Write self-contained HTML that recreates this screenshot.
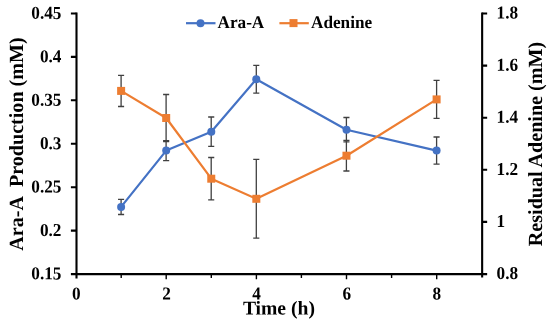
<!DOCTYPE html>
<html><head><meta charset="utf-8"><title>Chart</title>
<style>html,body{margin:0;padding:0;background:#fff}svg{display:block}text{text-rendering:geometricPrecision;font-family:"Liberation Serif",serif;font-weight:bold;fill:#000}</style></head><body>
<svg width="550" height="324" viewBox="0 0 550 324">
<rect width="550" height="324" fill="#fff"/>
<path d="M121.1 199.3V214.5M118.02 199.3H124.12M118.02 214.5H124.12" stroke="#404040" stroke-width="1.3" fill="none"/>
<path d="M166.1 140.6V160.6M163.09 140.6H169.19M163.09 160.6H169.19" stroke="#404040" stroke-width="1.3" fill="none"/>
<path d="M211.2 117.0V146.4M208.16 117.0H214.26M208.16 146.4H214.26" stroke="#404040" stroke-width="1.3" fill="none"/>
<path d="M256.3 65.4V93.2M253.23 65.4H259.33M253.23 93.2H259.33" stroke="#404040" stroke-width="1.3" fill="none"/>
<path d="M346.4 117.5V141.9M343.37 117.5H349.47M343.37 141.9H349.47" stroke="#404040" stroke-width="1.3" fill="none"/>
<path d="M436.6 137.0V164.2M433.51 137.0H439.61M433.51 164.2H439.61" stroke="#404040" stroke-width="1.3" fill="none"/>
<path d="M121.1 75.3V106.5M118.02 75.3H124.12M118.02 106.5H124.12" stroke="#404040" stroke-width="1.3" fill="none"/>
<path d="M166.1 94.5V141.5M163.09 94.5H169.19M163.09 141.5H169.19" stroke="#404040" stroke-width="1.3" fill="none"/>
<path d="M211.2 157.5V199.9M208.16 157.5H214.26M208.16 199.9H214.26" stroke="#404040" stroke-width="1.3" fill="none"/>
<path d="M256.3 159.4V238.2M253.23 159.4H259.33M253.23 238.2H259.33" stroke="#404040" stroke-width="1.3" fill="none"/>
<path d="M346.4 140.4V171.0M343.37 140.4H349.47M343.37 171.0H349.47" stroke="#404040" stroke-width="1.3" fill="none"/>
<path d="M436.6 80.4V118.4M433.51 80.4H439.61M433.51 118.4H439.61" stroke="#404040" stroke-width="1.3" fill="none"/>
<polyline points="121.1,206.9 166.2,150.6 211.3,131.7 256.3,79.3 346.5,129.7 436.6,150.6" fill="none" stroke="#4472C4" stroke-width="2.2" stroke-linejoin="round"/>
<circle cx="121.1" cy="206.9" r="4.0" fill="#4472C4"/>
<circle cx="166.2" cy="150.6" r="4.0" fill="#4472C4"/>
<circle cx="211.3" cy="131.7" r="4.0" fill="#4472C4"/>
<circle cx="256.3" cy="79.3" r="4.0" fill="#4472C4"/>
<circle cx="346.5" cy="129.7" r="4.0" fill="#4472C4"/>
<circle cx="436.6" cy="150.6" r="4.0" fill="#4472C4"/>
<polyline points="121.1,90.9 166.2,118.0 211.3,178.7 256.3,198.8 346.5,155.7 436.6,99.4" fill="none" stroke="#ED7D31" stroke-width="2.2" stroke-linejoin="round"/>
<rect x="117.12" y="86.90" width="8" height="8" fill="#ED7D31"/>
<rect x="162.19" y="114.00" width="8" height="8" fill="#ED7D31"/>
<rect x="207.26" y="174.70" width="8" height="8" fill="#ED7D31"/>
<rect x="252.33" y="194.80" width="8" height="8" fill="#ED7D31"/>
<rect x="342.47" y="151.70" width="8" height="8" fill="#ED7D31"/>
<rect x="432.61" y="95.40" width="8" height="8" fill="#ED7D31"/>
<path d="M76.5 12.4V278.6M482.15 12.4V277.6" stroke="#000" stroke-width="2.1" fill="none"/>
<path d="M70.9 274.15H487.15" stroke="#000" stroke-width="2.4" fill="none"/>
<path d="M70.9 13.5H76.5M70.9 56.9H76.5M70.9 100.3H76.5M70.9 143.8H76.5M70.9 187.2H76.5M70.9 230.6H76.5M482.15 13.5H487.15M482.15 65.6H487.15M482.15 117.7H487.15M482.15 169.8H487.15M482.15 221.9H487.15" stroke="#000" stroke-width="2.1" fill="none"/>
<path d="M121.2 274.0V277.9M166.2 274.0V279.2M211.3 274.0V277.9M256.4 274.0V279.2M301.4 274.0V277.9M346.5 274.0V279.2M391.6 274.0V277.9M436.7 274.0V279.2" stroke="#000" stroke-width="1.4" fill="none"/>
<text transform="translate(61.4,18.90) rotate(0.1) scale(1,1.06)" font-size="17.2" text-anchor="end">0.45</text>
<text transform="translate(61.4,62.32) rotate(0.1) scale(1,1.06)" font-size="17.2" text-anchor="end">0.4</text>
<text transform="translate(61.4,105.73) rotate(0.1) scale(1,1.06)" font-size="17.2" text-anchor="end">0.35</text>
<text transform="translate(61.4,149.15) rotate(0.1) scale(1,1.06)" font-size="17.2" text-anchor="end">0.3</text>
<text transform="translate(61.4,192.57) rotate(0.1) scale(1,1.06)" font-size="17.2" text-anchor="end">0.25</text>
<text transform="translate(61.4,235.98) rotate(0.1) scale(1,1.06)" font-size="17.2" text-anchor="end">0.2</text>
<text transform="translate(61.4,279.40) rotate(0.1) scale(1,1.06)" font-size="17.2" text-anchor="end">0.15</text>
<text transform="translate(496.6,18.60) rotate(0.1) scale(1,1.06)" font-size="17.2">1.8</text>
<text transform="translate(496.6,70.70) rotate(0.1) scale(1,1.06)" font-size="17.2">1.6</text>
<text transform="translate(496.6,122.80) rotate(0.1) scale(1,1.06)" font-size="17.2">1.4</text>
<text transform="translate(496.6,174.90) rotate(0.1) scale(1,1.06)" font-size="17.2">1.2</text>
<text transform="translate(496.6,227.00) rotate(0.1) scale(1,1.06)" font-size="17.2">1</text>
<text transform="translate(496.6,279.10) rotate(0.1) scale(1,1.06)" font-size="17.2">0.8</text>
<text transform="translate(76.3,299.4) rotate(0.1) scale(1,1.06)" font-size="17.2" text-anchor="middle">0</text>
<text transform="translate(166.5,299.4) rotate(0.1) scale(1,1.06)" font-size="17.2" text-anchor="middle">2</text>
<text transform="translate(256.6,299.4) rotate(0.1) scale(1,1.06)" font-size="17.2" text-anchor="middle">4</text>
<text transform="translate(346.8,299.4) rotate(0.1) scale(1,1.06)" font-size="17.2" text-anchor="middle">6</text>
<text transform="translate(436.9,299.4) rotate(0.1) scale(1,1.06)" font-size="17.2" text-anchor="middle">8</text>
<text transform="translate(278.9,314.5) rotate(0.1)" font-size="19.6" text-anchor="middle">Time (h)</text>
<text transform="translate(22.6,144) rotate(-90)" font-size="20.1" text-anchor="middle" xml:space="preserve">Ara-A  Production (mM)</text>
<text transform="translate(542.0,144.0) rotate(-90)" font-size="20.1" text-anchor="middle">Residual Adenine (mM)</text>
<path d="M186 23.2H215.5" stroke="#4472C4" stroke-width="2.2"/><circle cx="200.5" cy="23.2" r="4" fill="#4472C4"/>
<text transform="translate(217.5,28.0) rotate(0.1) scale(1,1.03)" font-size="17.2">Ara-A</text>
<path d="M279.4 23.2H308.8" stroke="#ED7D31" stroke-width="2.2"/><rect x="289.5" y="19.1" width="8" height="8" fill="#ED7D31"/>
<text transform="translate(311.0,28.0) rotate(0.1) scale(1,1.03)" font-size="17.2">Adenine</text>
</svg></body></html>
